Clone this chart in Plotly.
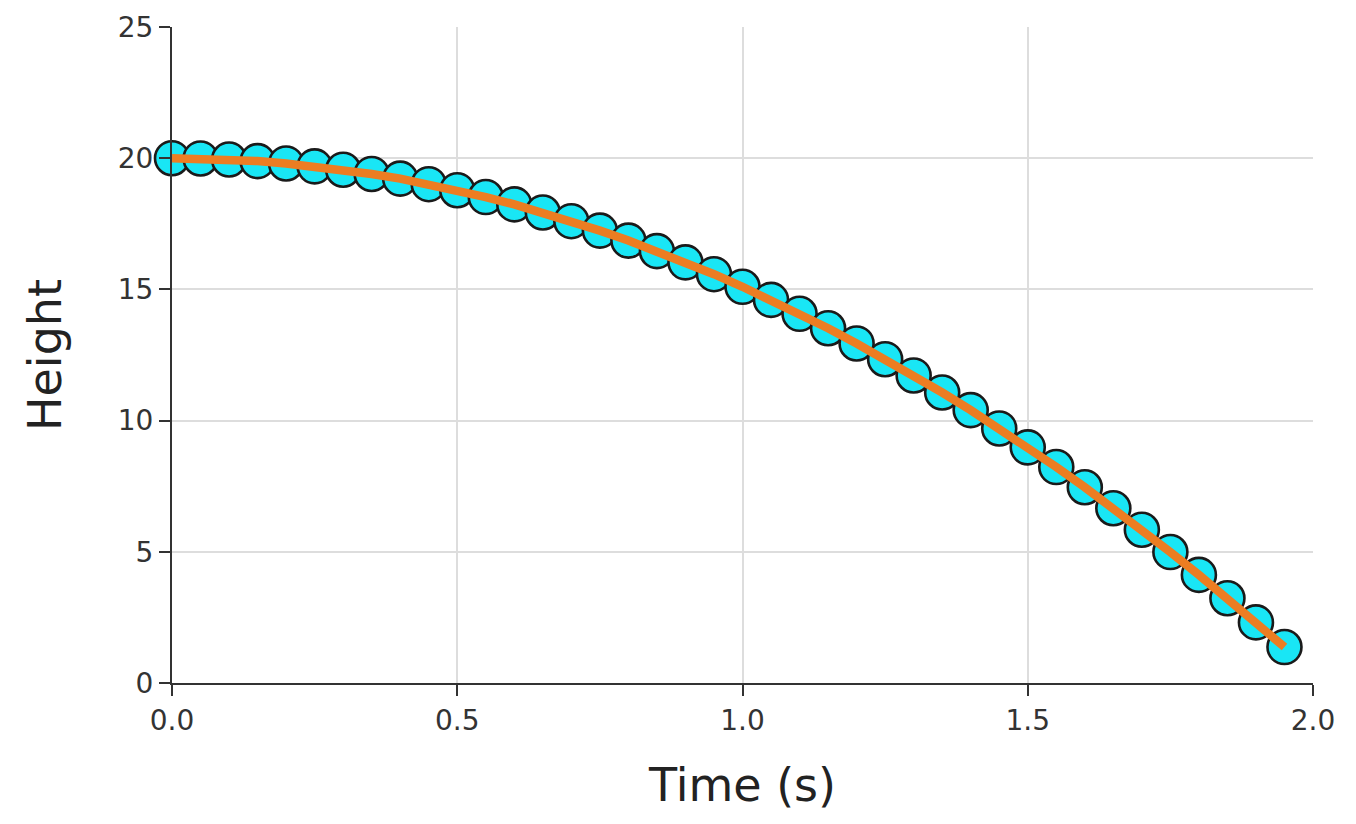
import plotly.graph_objects as go

time_s = [0.00, 0.05, 0.10, 0.15, 0.20, 0.25, 0.30, 0.35, 0.40, 0.45,
          0.50, 0.55, 0.60, 0.65, 0.70, 0.75, 0.80, 0.85, 0.90, 0.95,
          1.00, 1.05, 1.10, 1.15, 1.20, 1.25, 1.30, 1.35, 1.40, 1.45,
          1.50, 1.55, 1.60, 1.65, 1.70, 1.75, 1.80, 1.85, 1.90, 1.95]
height = [20.00, 19.99, 19.95, 19.89, 19.80, 19.69, 19.56, 19.40, 19.22, 19.01,
          18.78, 18.52, 18.24, 17.93, 17.60, 17.24, 16.86, 16.46, 16.03, 15.58,
          15.10, 14.60, 14.07, 13.52, 12.94, 12.34, 11.72, 11.07, 10.40, 9.70,
          8.98, 8.23, 7.46, 6.66, 5.84, 4.99, 4.12, 3.23, 2.31, 1.37]

x_ticks = [0.0, 0.5, 1.0, 1.5, 2.0]
x_ticktext = ["0.0", "0.5", "1.0", "1.5", "2.0"]
y_ticks = [0, 5, 10, 15, 20, 25]

FONT = "DejaVu Sans"

fig = go.Figure()
fig.add_trace(go.Scatter(
    x=time_s, y=height, mode="markers",
    marker=dict(size=34, color="#19e6f5", line=dict(color="#1a1a1a", width=2.6)),
    showlegend=False, cliponaxis=False,
))
fig.add_trace(go.Scatter(
    x=time_s, y=height, mode="lines",
    line=dict(color="#ec7d22", width=8.5),
    showlegend=False, cliponaxis=False,
))

fig.update_layout(
    width=1356, height=824,
    margin=dict(l=172, r=43, t=27, b=141),
    paper_bgcolor="white", plot_bgcolor="white",
    font=dict(family=FONT, color="#333333"),
)
fig.update_xaxes(
    range=[0, 2], tickvals=x_ticks, ticktext=x_ticktext,
    showgrid=True, gridcolor="#dddddd", gridwidth=1.5,
    showline=True, linecolor="#333333", linewidth=2,
    ticks="outside", ticklen=11, tickwidth=2, tickcolor="#333333",
    tickfont=dict(size=28, family=FONT, color="#333333"),
    title=dict(text="Time (s)", font=dict(size=46, family=FONT, color="#222222"), standoff=33),
    zeroline=False,
)
fig.update_yaxes(
    range=[0, 25], tickvals=y_ticks,
    showgrid=True, gridcolor="#dddddd", gridwidth=1.5,
    showline=True, linecolor="#333333", linewidth=2,
    ticks="outside", ticklen=11, tickwidth=2, tickcolor="#333333",
    tickfont=dict(size=28, family=FONT, color="#333333"),
    title=dict(text="Height", font=dict(size=46, family=FONT, color="#222222"), standoff=42),
    zeroline=False,
)

fig.write_html("out.html")
